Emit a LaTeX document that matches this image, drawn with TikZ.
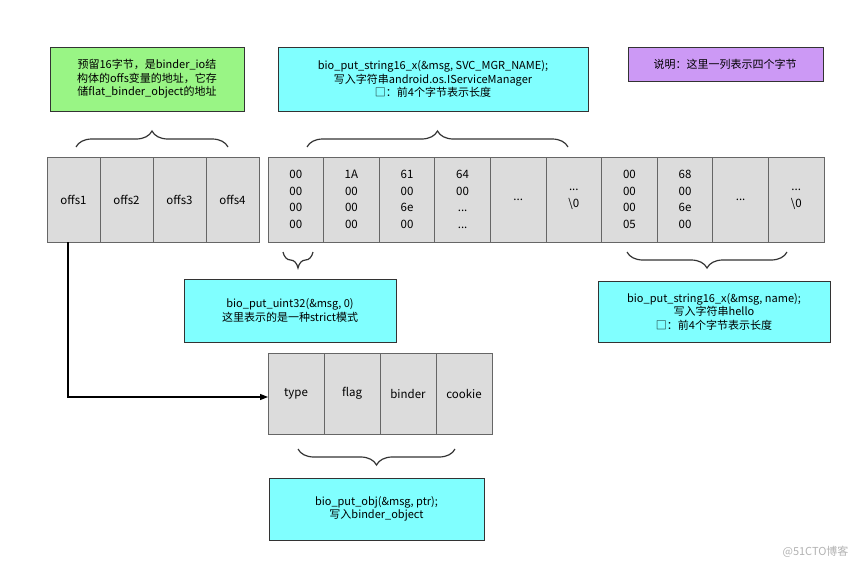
\documentclass[tikz,border=0pt]{standalone}
\usepackage{fontspec}
\setmainfont{Noto Sans CJK SC}
\usetikzlibrary{decorations.pathreplacing,arrows.meta}
\definecolor{cy}{HTML}{80FFFF}
\definecolor{gr}{HTML}{99F585}
\definecolor{pu}{HTML}{CC99F5}
\definecolor{ce}{HTML}{DCDCDC}
\begin{document}
\begin{tikzpicture}[x=1pt,y=-1pt,
  cell/.style={draw=gray!80!black,fill=ce,line width=0.8pt},
  note/.style={draw=black!80,line width=0.9pt},
  txt/.style={align=center,font=\fontsize{11.5}{14}\selectfont},
  ntxt/.style={align=center,font=\fontsize{11}{13.5}\selectfont},
  brace/.style={decorate,decoration={brace,amplitude=16pt,aspect=0.5},line width=1.2pt,draw=black!80}]
\useasboundingbox (0,0) rectangle (861,570);
% notes
\draw[note,fill=gr] (50,47) rectangle (244,111);
\node[ntxt] (g) at (147,79) {预留16字节，是binder\_io结\\构体的offs变量的地址，它存\\储flat\_binder\_object的地址};
\draw[note,fill=cy] (278,47) rectangle (588,111);
\node[ntxt] (c1) at (433,79) {bio\_put\_string16\_x(\&msg, SVC\_MGR\_NAME);\\写入字符串android.os.IServiceManager\\□：前4个字节表示长度};
\draw[note,fill=pu] (628,47) rectangle (823,81);
\node[ntxt] (p) at (725,64) {说明：这里一列表示四个字节};
% braces top
\draw[brace] (76,147) -- (228,147);
\draw[brace] (307,147) -- (568,147);
% offs row
\foreach \i/\t in {0/offs1,1/offs2,2/offs3,3/offs4}{
  \draw[cell] ({47+53*\i},157) rectangle ({100+53*\i},242);
  \node[txt] (o\i) at ({73.5+53*\i},199.5) {\t};}
% data row
\foreach \i/\t in {0/{00\\00\\00\\00},1/{1A\\00\\00\\00},2/{61\\00\\6e\\00},3/{64\\00\\...\\...},4/{...},5/{...\\\textbackslash0},6/{00\\00\\00\\05},7/{68\\00\\6e\\00},8/{...},9/{...\\\textbackslash0}}{
  \draw[cell] ({268+55.6*\i},157) rectangle ({323.6+55.6*\i},242);
  \node[txt,font=\fontsize{11.5}{16.5}\selectfont] (d\i) at ({295.8+55.6*\i},199.5) {\t};}
% lower braces
\draw[brace] (313,252) -- (283,252);
\draw[brace] (787,252) -- (627,252);
\draw[note,fill=cy] (184,279) rectangle (396,342);
\node[ntxt] (u) at (290,310.5) {bio\_put\_uint32(\&msg, 0)\\这里表示的是一种strict模式};
\draw[note,fill=cy] (598,281) rectangle (830,342);
\node[ntxt] (n) at (714,311.5) {bio\_put\_string16\_x(\&msg, name);\\写入字符串hello\\□：前4个字节表示长度};
% type row
\foreach \i/\t in {0/type,1/flag,2/binder,3/cookie}{
  \draw[cell] ({268+56*\i},353) rectangle ({324+56*\i},434);
  \node[txt] (t\i) at ({296+56*\i},393.5) {\t};}
\coordinate (tin) at (268,397);
\draw[brace] (455,449) -- (298,449);
\draw[note,fill=cy] (269,478) rectangle (484,540);
\node[ntxt] (ob) at (376.5,509) {bio\_put\_obj(\&msg, ptr);\\写入binder\_object};
% arrow
\draw[line width=1.1pt,-{Triangle[length=8pt,width=6pt]}] (68,242) |- (tin);
\node[text=gray!60,font=\fontsize{11}{13}\selectfont,anchor=east] (w) at (852,552) {@51CTO博客};
\end{tikzpicture}
\end{document}
